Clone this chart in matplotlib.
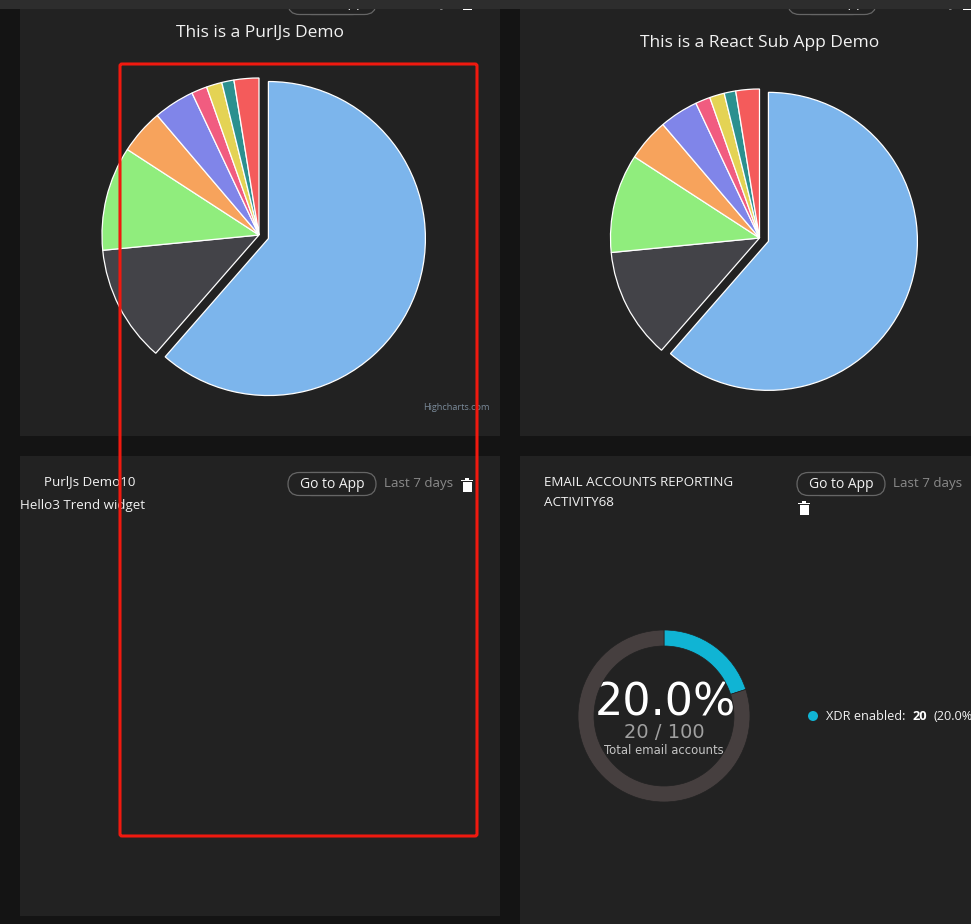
import matplotlib
matplotlib.use("Agg")
import matplotlib.pyplot as plt
from matplotlib.patches import Rectangle, FancyBboxPatch, Circle

W, H = 971, 924

# pie data, share of the circle
pie_values = [61.3, 12.0, 10.7, 4.6, 4.2, 1.6, 1.6, 1.25, 2.55]
pie_colors = ["#7cb5ec", "#434348", "#90ed7d", "#f7a35c", "#8085e9",
              "#f15c80", "#e4d354", "#2b908f", "#f45b5b"]
pie_explode = [0.064, 0, 0, 0, 0, 0, 0, 0, 0]

donut_values = [20, 80]
donut_colors = ["#10b4d4", "#463f3f"]

titles = ["This is a PurlJs Demo", "This is a React Sub App Demo"]

BG = "#141414"
CARD = "#222222"
WHITE = "#f2f2f2"
GREY = "#8a8a8a"

plt.rcParams["font.family"] = ["Open Sans", "DejaVu Sans"]

fig = plt.figure(figsize=(W / 100, H / 100), dpi=100, facecolor=BG)
bg = fig.add_axes([0, 0, 1, 1], zorder=0)
bg.set_xlim(0, W)
bg.set_ylim(H, 0)
bg.axis("off")

# cards and top bar
for x0, y0, x1, y1 in [(20, 9, 500, 436), (520, 9, 971, 436),
                       (20, 456, 500, 916), (520, 456, 971, 924)]:
    bg.add_patch(Rectangle((x0, y0), x1 - x0, y1 - y0, fc=CARD, ec="none", zorder=1))
bg.add_patch(Rectangle((0, 0), W, 8.5, fc="#2d2d2d", ec="none", zorder=10))


def trash(x, y):
    bg.add_patch(Rectangle((x - 4.5, y - 3.5), 9, 10.5, fc="white", ec="none", zorder=3))
    bg.add_patch(Rectangle((x - 6, y - 5.5), 12, 1.6, fc="white", ec="none", zorder=3))
    bg.add_patch(Rectangle((x - 2, y - 7), 4, 1.6, fc="white", ec="none", zorder=3))
    for dx in (-2, 0, 2):
        bg.add_patch(Rectangle((x + dx - 0.4, y - 2), 0.8, 7.5, fc=CARD, ec="none", zorder=4))


def app_row(pill_x, y, days_x=None):
    bg.add_patch(FancyBboxPatch((pill_x + 12, y - 12 + 0.5), 88 - 24, 23,
                                boxstyle="round,pad=0,rounding_size=11.5",
                                mutation_aspect=1, fc="none", ec="#666666", lw=0.9, zorder=3))
    bg.add_patch(FancyBboxPatch((pill_x, y - 11.5), 88, 23,
                                boxstyle="round,pad=0,rounding_size=11.5",
                                fc=CARD, ec="#666666", lw=0.9, zorder=3))
    bg.text(pill_x + 44, y, "Go to App", color=WHITE, fontsize=10, ha="center", va="center", zorder=5)
    if days_x is not None:
        bg.text(days_x, y, "Last 7 days", color=GREY, fontsize=9.6, ha="left", va="center", zorder=5)


# header rows
app_row(288, 3, 384)
trash(467, 3)
app_row(788, 3, 893)
trash(967, 3)
app_row(288, 484, 384)
trash(467, 485)
app_row(797, 484, 893)
trash(804, 508)

bg.text(260, 33, titles[0], color=WHITE, fontsize=12.5, ha="center", va="center", zorder=5)
bg.text(760, 43, titles[1], color=WHITE, fontsize=12.5, ha="center", va="center", zorder=5)
bg.text(490, 408, "Highcharts.com", color="#7a8a99", fontsize=6.6, ha="right", va="center", zorder=5)

bg.text(44, 482, "PurlJs Demo10", color=WHITE, fontsize=9.6, ha="left", va="center", zorder=5)
bg.text(20, 506, "Hello3 Trend widget", color=WHITE, fontsize=9.6, ha="left", va="center", zorder=5)
bg.text(544, 482, "EMAIL ACCOUNTS REPORTING", color=WHITE, fontsize=9.6, ha="left", va="center", zorder=5)
bg.text(544, 502, "ACTIVITY68", color=WHITE, fontsize=9.6, ha="left", va="center", zorder=5)

# legend of the donut, runs off the right edge like the screenshot
bg.add_patch(Circle((813, 716), 5, fc=donut_colors[0], ec="none", zorder=5))
bg.text(826, 716, "XDR enabled:", color=WHITE, fontsize=9.2, ha="left", va="center", zorder=5)
bg.text(913, 716, "20", color="white", fontsize=9.2, fontweight="bold", ha="left", va="center", zorder=5)
bg.text(934, 716, "(20.0%)", color=WHITE, fontsize=9.2, ha="left", va="center", zorder=5)

# donut center text
bg.text(665, 703, "20.0%", color="white", fontsize=32, ha="center", va="center",
        family="DejaVu Sans", zorder=5)
bg.text(664, 733, "20 / 100", color="#a0a0a0", fontsize=14, ha="center", va="center",
        family="DejaVu Sans", zorder=5)
bg.text(664, 751, "Total email accounts", color="#c4c4c4", fontsize=8.4, ha="center", va="center",
        family="DejaVu Sans", zorder=5)


def pie_axes(cx, cy, r):
    # pie() leaves limits at +-1.25, so the axes spans 2.5 radii
    s = 1.25 * r
    ax = fig.add_axes([(cx - s) / W, 1 - (cy + s) / H, 2 * s / W, 2 * s / H], zorder=1)
    return ax


ax1 = pie_axes(259, 235, 157)
ax1.pie(pie_values, colors=pie_colors, explode=pie_explode, startangle=90, counterclock=False,
        wedgeprops={"edgecolor": "white", "linewidth": 0.9})
ax2 = pie_axes(759.5, 238, 149)
ax2.pie(pie_values, colors=pie_colors, explode=pie_explode, startangle=90, counterclock=False,
        wedgeprops={"edgecolor": "white", "linewidth": 0.9})

ax3 = pie_axes(664, 716, 86)
ax3.pie(donut_values, colors=donut_colors, startangle=90, counterclock=False,
        wedgeprops={"width": 16 / 86, "edgecolor": CARD, "linewidth": 0.5})

# red annotation box on top of everything
top = fig.add_axes([0, 0, 1, 1], zorder=5)
top.set_xlim(0, W)
top.set_ylim(H, 0)
top.axis("off")
top.add_patch(FancyBboxPatch((120, 64), 357, 772, boxstyle="round,pad=0,rounding_size=2",
                             fc="none", ec="#f0190f", lw=2.2))

fig.savefig("out.png", dpi=100, facecolor=BG)
